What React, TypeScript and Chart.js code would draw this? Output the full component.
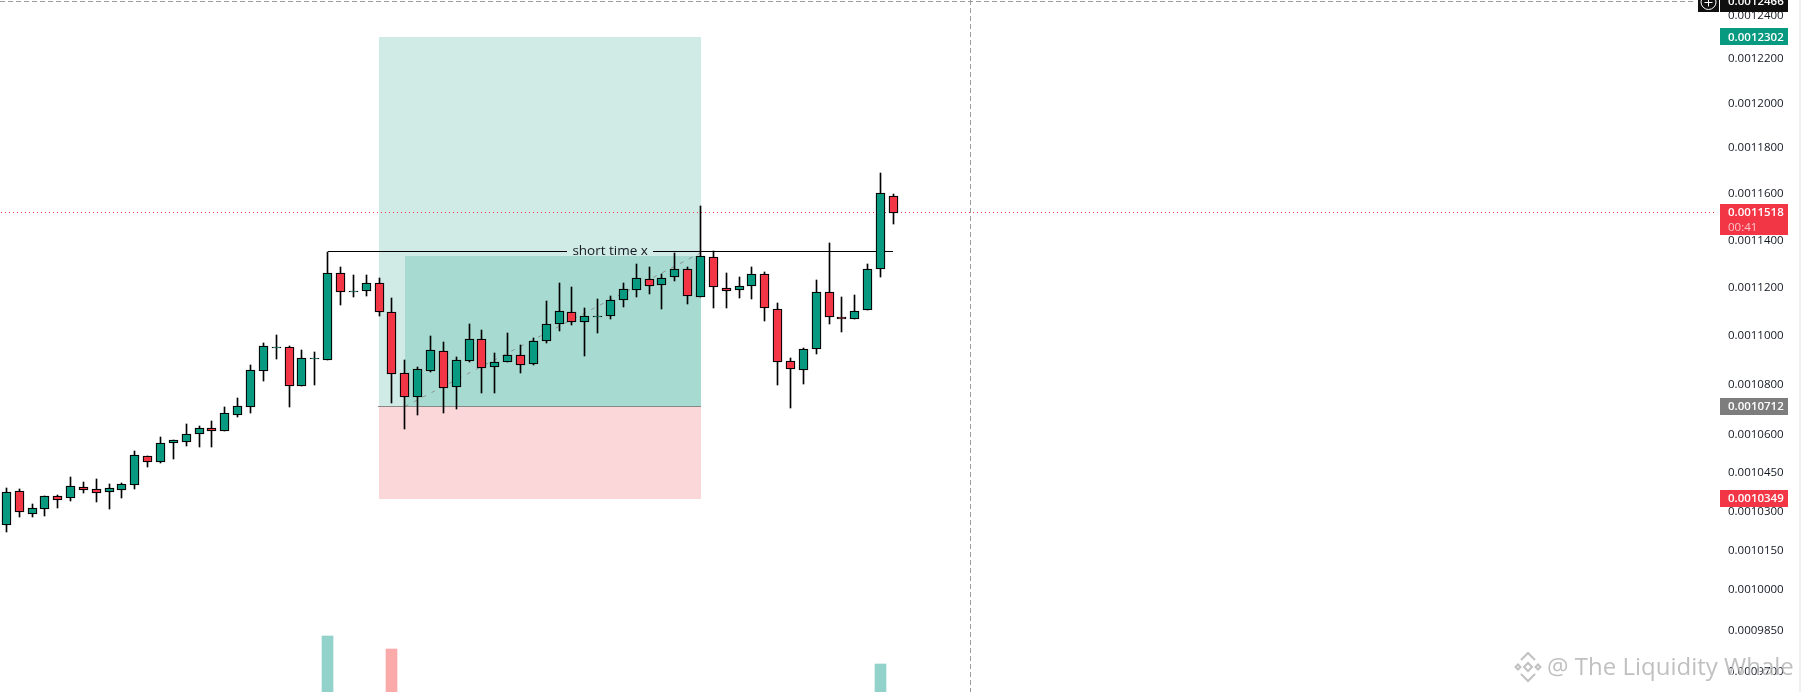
import React, { useEffect, useRef } from "react";
import { Chart, registerables } from "chart.js";

Chart.register(...registerables);

const opens = [
  0.0010249, 0.0010377, 0.0010291, 0.001031, 0.0010358, 0.001035, 0.0010393, 0.0010385, 0.0010376, 0.0010384,
  0.0010403, 0.0010514, 0.0010493, 0.0010568, 0.0010572, 0.0010604, 0.0010625, 0.0010616, 0.0010676, 0.0010712,
  0.0010857, 0.0010951, 0.0010952, 0.0010796, 0.0010906, 0.0010902, 0.001126, 0.0011183, 0.0011184, 0.0011218,
  0.0011097, 0.0010846, 0.0010749, 0.0010857, 0.0010936, 0.0010789, 0.0010898, 0.0010985, 0.0010871, 0.0010891,
  0.0010919, 0.0010883, 0.0010977, 0.0011047, 0.0011097, 0.0011055, 0.001108, 0.001108, 0.0011147, 0.0011188,
  0.0011234, 0.0011209, 0.0011243, 0.0011277, 0.0011159, 0.0011328, 0.0011197, 0.0011188, 0.0011205, 0.0011256,
  0.0011109, 0.0010895, 0.0010858, 0.0010944, 0.001118, 0.0011076, 0.0011068, 0.0011105, 0.0011277, 0.0011589,
];
const closes = [
  0.0010373, 0.0010296, 0.0010312, 0.0010358, 0.0010345, 0.0010396, 0.0010384, 0.0010372, 0.0010389, 0.0010404,
  0.0010518, 0.0010493, 0.0010566, 0.0010577, 0.0010601, 0.0010625, 0.0010616, 0.0010685, 0.0010713, 0.0010858,
  0.0010956, 0.0010955, 0.0010796, 0.0010907, 0.001091, 0.001126, 0.001118, 0.0011187, 0.0011218, 0.0011097,
  0.0010842, 0.0010749, 0.0010862, 0.001094, 0.0010785, 0.0010899, 0.0010985, 0.0010866, 0.0010891, 0.0010919,
  0.0010879, 0.0010977, 0.0011047, 0.0011101, 0.0011055, 0.001108, 0.0011083, 0.0011147, 0.0011192, 0.0011239,
  0.0011205, 0.0011239, 0.0011277, 0.0011163, 0.0011332, 0.0011201, 0.0011184, 0.0011205, 0.0011256, 0.0011113,
  0.0010891, 0.0010862, 0.0010944, 0.001118, 0.0011076, 0.0011068, 0.0011101, 0.0011277, 0.0011602, 0.0011518,
];
const highs = [
  0.0010389, 0.0010385, 0.0010327, 0.0010358, 0.0010362, 0.0010432, 0.0010412, 0.0010424, 0.0010404, 0.0010408,
  0.0010534, 0.0010514, 0.0010589, 0.0010577, 0.0010641, 0.0010633, 0.0010653, 0.0010709, 0.0010745, 0.0010879,
  0.0010968, 0.0011001, 0.0010956, 0.001094, 0.0010932, 0.0011352, 0.0011285, 0.0011251, 0.0011251, 0.0011239,
  0.0011155, 0.0010899, 0.0010871, 0.0010997, 0.0010973, 0.0010911, 0.0011047, 0.0011022, 0.0010928, 0.0011009,
  0.001096, 0.0010989, 0.0011142, 0.0011218, 0.0011201, 0.0011113, 0.0011151, 0.0011163, 0.0011218, 0.0011298,
  0.0011285, 0.0011256, 0.0011344, 0.0011285, 0.0011547, 0.0011353, 0.001126, 0.0011243, 0.0011285, 0.0011264,
  0.0011134, 0.0010907, 0.0010948, 0.001123, 0.0011387, 0.0011159, 0.0011167, 0.0011298, 0.0011689, 0.0011598,
];
const lows = [
  0.0010222, 0.0010276, 0.0010276, 0.001028, 0.0010314, 0.0010341, 0.0010372, 0.0010337, 0.001031, 0.0010353,
  0.0010387, 0.0010474, 0.0010489, 0.0010505, 0.0010556, 0.0010549, 0.0010552, 0.0010616, 0.0010668, 0.0010684,
  0.0010816, 0.0010906, 0.0010712, 0.0010796, 0.00108, 0.0010902, 0.0011129, 0.0011162, 0.0011166, 0.0011083,
  0.0010728, 0.0010624, 0.0010676, 0.0010853, 0.0010684, 0.00107, 0.001089, 0.0010768, 0.0010768, 0.0010891,
  0.0010849, 0.0010879, 0.0010968, 0.001102, 0.0011045, 0.0010918, 0.0011012, 0.001107, 0.001112, 0.0011162,
  0.0011174, 0.0011112, 0.0011229, 0.0011133, 0.0011159, 0.0011116, 0.0011116, 0.0011158, 0.0011154, 0.0011062,
  0.00108, 0.0010704, 0.0010804, 0.0010926, 0.001105, 0.0011016, 0.0011068, 0.0011105, 0.0011246, 0.0011468,
];
const volumeIndexes = [25, 30, 68];
const volumes = [81, 62, 41];
const tickValues = [
  0.00124, 0.00122, 0.0012, 0.00118, 0.00116, 0.00114, 0.00112, 0.0011, 0.00108, 0.00106, 0.001045, 0.00103,
  0.001015, 0.001, 0.000985, 0.00097,
];
const targetPrice = 0.0012302;
const entryPrice = 0.0010712;
const stopPrice = 0.0010349;
const currentPrice = 0.0011518;
const crossPrice = 0.0012466;
const lineLevel = 0.0011352;
const progressPrice = 0.0011333;
const trendIndexes = [31, 54];
const trendPrices = [0.0010712, 0.0011346];
const lineLeftIndexes = [25, 43.64];
const lineRightIndexes = [50.31, 69];
const zoneStartIndex = 29;
const progressStartIndex = 31;
const zoneEndIndex = 54;
const crossIndex = 75;
const lineLabel = "short time x";
const countdown = "00:41";
const watermark = "@ The Liquidity Whale";

const GREEN = "#089981";
const RED = "#f23645";
const FONT = '"Open Sans", "Noto Sans", sans-serif';

const overlayBehind = {
  id: "overlayBehind",
  beforeDatasetsDraw(chart: any) {
    const { ctx, scales } = chart;
    const x = scales.x;
    const y = scales.y;

    // snap the library's bar and horizontal line geometry to whole pixels
    chart.data.datasets.forEach((ds: any, i: number) => {
      const meta = chart.getDatasetMeta(i);
      if (ds.type === "line") {
        const flat = meta.data.every((p: any) => Math.abs(p.y - meta.data[0].y) < 0.01);
        if (flat) {
          meta.data.forEach((p: any) => {
            p.y = Math.floor(p.y) + 0.5;
            p.x = Math.round(p.x);
          });
        }
        return;
      }
      meta.data.forEach((el: any) => {
        el.x = Math.floor(el.x) + 0.5;
        if (ds.label === "Volume") {
          el.y = Math.round(el.y);
          return;
        }
        const top = Math.round(Math.min(el.y, el.base));
        let bottom = Math.round(Math.max(el.y, el.base));
        if (bottom - top < 1) bottom = top + 1;
        el.y = top;
        el.base = bottom;
        el.height = bottom - top;
      });
    });

    const left = Math.round(x.getPixelForValue(zoneStartIndex));
    const right = Math.round(x.getPixelForValue(zoneEndIndex) + 0.7);
    const inner = Math.round(x.getPixelForValue(progressStartIndex));
    const top = Math.round(y.getPixelForValue(targetPrice));
    const entry = Math.round(y.getPixelForValue(entryPrice));
    const stop = Math.round(y.getPixelForValue(stopPrice));
    const prog = Math.round(y.getPixelForValue(progressPrice));
    ctx.save();
    ctx.fillStyle = "#d0ebe5";
    ctx.fillRect(left, top, right - left, entry - top);
    ctx.fillStyle = "#fbd7da";
    ctx.fillRect(left, entry, right - left, stop - entry);
    ctx.fillStyle = "#a7dbd1";
    ctx.fillRect(inner, prog, right - inner, entry - prog);
    ctx.strokeStyle = "#888888";
    ctx.lineWidth = 1;
    ctx.beginPath();
    ctx.moveTo(left - 1, entry - 0.5);
    ctx.lineTo(right, entry - 0.5);
    ctx.stroke();
    ctx.restore();
  },
};

function tag(ctx: any, yMid: number, h: number, color: string, text: string) {
  ctx.fillStyle = color;
  ctx.fillRect(1720, Math.round(yMid - h / 2), 68, h);
  ctx.fillStyle = "#ffffff";
  ctx.font = `600 11.5px ${FONT}`;
  ctx.textAlign = "left";
  ctx.textBaseline = "middle";
  ctx.fillText(text, 1728, yMid + 0.5);
}

const overlayFront = {
  id: "overlayFront",
  afterDraw(chart: any) {
    const { ctx, scales } = chart;
    const x = scales.x;
    const y = scales.y;
    ctx.save();

    // text of the drawn line
    ctx.fillStyle = "#131722";
    ctx.font = `13.5px ${FONT}`;
    ctx.textAlign = "center";
    ctx.textBaseline = "middle";
    ctx.fillText(lineLabel, x.getPixelForValue((lineLeftIndexes[1] + lineRightIndexes[0]) / 2), y.getPixelForValue(lineLevel));

    // crosshair
    ctx.strokeStyle = "#9b9b9b";
    ctx.lineWidth = 1;
    ctx.setLineDash([5, 3]);
    const cx = Math.round(x.getPixelForValue(crossIndex)) + 0.5;
    ctx.beginPath();
    ctx.moveTo(cx, 0);
    ctx.lineTo(cx, chart.height);
    ctx.stroke();
    const cy = Math.round(y.getPixelForValue(crossPrice)) + 0.5;
    ctx.beginPath();
    ctx.moveTo(0, cy);
    ctx.lineTo(1694, cy);
    ctx.stroke();
    ctx.setLineDash([]);

    // price tags
    tag(ctx, y.getPixelForValue(targetPrice), 17, GREEN, targetPrice.toFixed(7));
    tag(ctx, y.getPixelForValue(entryPrice), 17, "#7d7d7d", entryPrice.toFixed(7));
    tag(ctx, y.getPixelForValue(stopPrice), 17, RED, stopPrice.toFixed(7));

    const curY = y.getPixelForValue(currentPrice);
    ctx.fillStyle = RED;
    ctx.fillRect(1720, Math.round(curY - 8.5), 68, 31);
    ctx.fillStyle = "#ffffff";
    ctx.font = `600 11.5px ${FONT}`;
    ctx.textAlign = "left";
    ctx.textBaseline = "middle";
    ctx.fillText(currentPrice.toFixed(7), 1728, curY + 0.3);
    ctx.fillStyle = "rgba(255,255,255,0.7)";
    ctx.font = `11.5px ${FONT}`;
    ctx.fillText(countdown, 1728, curY + 14.5);

    // crosshair price tag and plus button
    ctx.fillStyle = "#0f0f0f";
    ctx.fillRect(1720, 0, 68, 12);
    ctx.fillRect(1698, 0, 21, 12);
    ctx.fillStyle = "#ffffff";
    ctx.font = `600 11.5px ${FONT}`;
    ctx.fillText(crossPrice.toFixed(7), 1728, 2);
    ctx.strokeStyle = "#ffffff";
    ctx.lineWidth = 1;
    ctx.beginPath();
    ctx.arc(1708.5, 2, 7.5, 0, Math.PI * 2);
    ctx.stroke();
    ctx.beginPath();
    ctx.moveTo(1704.5, 2.5);
    ctx.lineTo(1712.5, 2.5);
    ctx.moveTo(1708.5, 0);
    ctx.lineTo(1708.5, 6.5);
    ctx.stroke();

    // watermark
    ctx.font = `24px ${FONT}`;
    ctx.textAlign = "left";
    ctx.fillStyle = "rgba(255,255,255,0.7)";
    ctx.fillText(watermark, 1548, 669);
    ctx.fillStyle = "rgba(150,150,150,0.6)";
    ctx.fillText(watermark, 1547, 668);
    const lx = 1528;
    const ly = 667;
    ctx.strokeStyle = "rgba(160,160,160,0.65)";
    ctx.lineWidth = 2;
    const diamond = (mx: number, my: number, r: number) => {
      ctx.beginPath();
      ctx.moveTo(mx, my - r);
      ctx.lineTo(mx + r, my);
      ctx.lineTo(mx, my + r);
      ctx.lineTo(mx - r, my);
      ctx.closePath();
      ctx.stroke();
    };
    diamond(lx, ly, 4);
    diamond(lx - 10, ly, 2.5);
    diamond(lx + 10, ly, 2.5);
    ctx.beginPath();
    ctx.moveTo(lx - 7, ly - 7);
    ctx.lineTo(lx, ly - 14);
    ctx.lineTo(lx + 7, ly - 7);
    ctx.moveTo(lx - 7, ly + 7);
    ctx.lineTo(lx, ly + 14);
    ctx.lineTo(lx + 7, ly + 7);
    ctx.stroke();

    // right edge strip
    ctx.fillStyle = "#eef0f3";
    ctx.fillRect(1799, 0, 2, chart.height);
    ctx.restore();
  },
};

export default function App() {
  const ref = useRef<HTMLCanvasElement>(null);

  useEffect(() => {
    if (!ref.current) return;
    const index = opens.map((_, i) => i);
    const lineStyle = { type: "line", pointRadius: 0, fill: false, tension: 0, xAxisID: "x", yAxisID: "y" };
    const chart = new Chart(ref.current, {
      type: "bar",
      data: {
        datasets: [
          {
            ...lineStyle,
            label: "Last price",
            data: [
              { x: -1, y: currentPrice },
              { x: 134, y: currentPrice },
            ],
            borderColor: RED,
            borderWidth: 1,
            borderDash: [1, 3],
            order: 9,
          },
          {
            ...lineStyle,
            label: "Trend",
            data: trendIndexes.map((v, i) => ({ x: v, y: trendPrices[i] })),
            borderColor: "rgba(130,125,125,0.75)",
            borderWidth: 1,
            borderDash: [4, 6],
            order: 8,
          },
          {
            ...lineStyle,
            label: "Level left",
            data: lineLeftIndexes.map((v) => ({ x: v, y: lineLevel })),
            borderColor: "#000000",
            borderWidth: 1,
            order: 7,
          },
          {
            ...lineStyle,
            label: "Level right",
            data: lineRightIndexes.map((v) => ({ x: v, y: lineLevel })),
            borderColor: "#000000",
            borderWidth: 1,
            order: 7,
          },
          {
            label: "Volume",
            data: volumeIndexes.map((v, i) => ({ x: v, y: volumes[i] })),
            backgroundColor: volumeIndexes.map((v) => (closes[v] >= opens[v] ? "#93d2cb" : "#f9aaa9")),
            barThickness: 11,
            grouped: false,
            xAxisID: "x",
            yAxisID: "y2",
            order: 6,
          },
          {
            label: "Wick",
            data: index.map((i) => ({ x: i, y: [lows[i], highs[i]] })),
            backgroundColor: "#000000",
            barThickness: 1,
            grouped: false,
            borderSkipped: false,
            xAxisID: "x",
            yAxisID: "y",
            order: 2,
          },
          {
            label: "Candle",
            data: index.map((i) => ({ x: i, y: [opens[i], closes[i]] })),
            backgroundColor: index.map((i) => (closes[i] >= opens[i] ? GREEN : RED)),
            borderColor: "#000000",
            borderWidth: 1.25,
            borderSkipped: false,
            barThickness: 9,
            grouped: false,
            xAxisID: "x",
            yAxisID: "y",
            order: 1,
          },
        ] as any,
      },
      options: {
        responsive: false,
        animation: false,
        devicePixelRatio: 1,
        layout: { padding: 0 },
        plugins: { legend: { display: false }, title: { display: false }, tooltip: { enabled: false } },
        scales: {
          x: { type: "linear", display: false, offset: false, min: -0.49, max: 133 },
          y: {
            type: "logarithmic",
            position: "right",
            offset: false,
            bounds: "data",
            min: 0.0009626,
            max: 0.0012473,
            border: { display: false },
            grid: { display: false, drawTicks: false, offset: false },
            afterFit(axis: any) {
              axis.width = 85;
              axis.paddingTop = 0;
              axis.paddingBottom = 0;
            },
            afterBuildTicks(axis: any) {
              axis.ticks = tickValues.map((value) => ({ value }));
            },
            ticks: {
              autoSkip: false,
              padding: 12,
              color: "#131722",
              font: { family: FONT, size: 11.5 },
              callback: (v: any) => Number(v).toFixed(7),
            },
          },
          y2: { type: "linear", display: false, offset: false, min: 0, max: 1000 },
        },
      } as any,
      plugins: [overlayBehind, overlayFront],
    });
    return () => chart.destroy();
  }, []);

  return (
    <div style={{ position: "fixed", left: 0, top: 0, width: 1801, height: 692, background: "#ffffff", overflow: "hidden" }}>
      <canvas ref={ref} width={1801} height={692} style={{ display: "block", width: 1801, height: 692 }} />
    </div>
  );
}
